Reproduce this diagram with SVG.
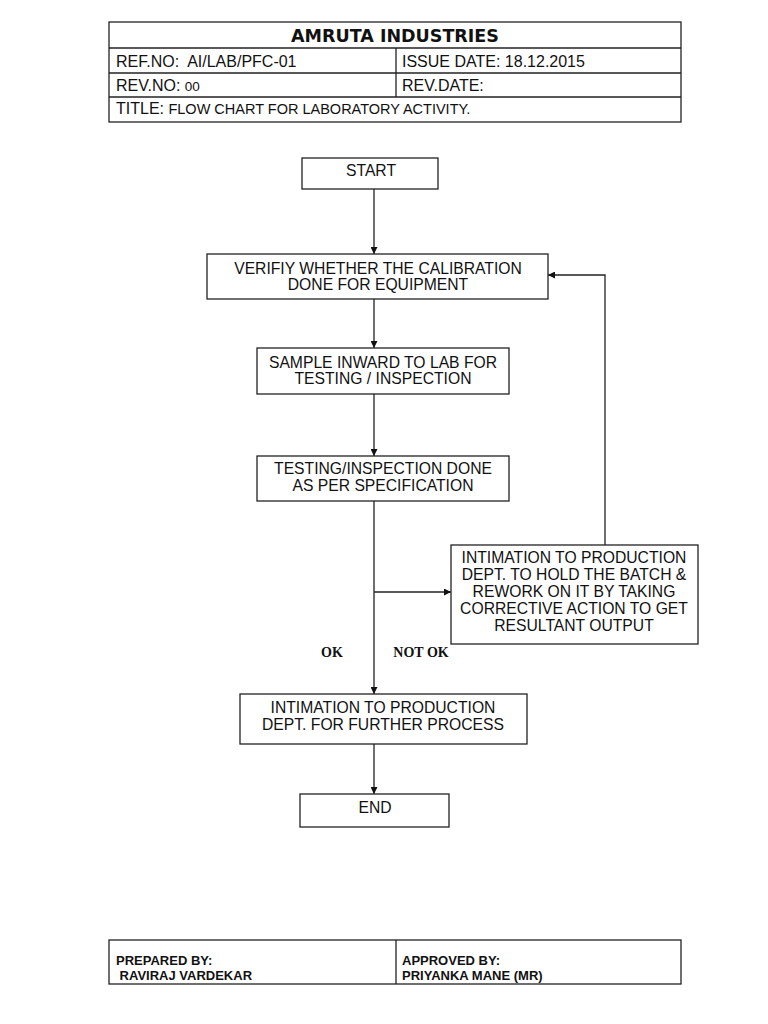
<svg xmlns="http://www.w3.org/2000/svg" width="768" height="1024" viewBox="0 0 768 1024">
<defs>
<marker id="arr" viewBox="0 0 10 10" refX="10" refY="5" markerWidth="7" markerHeight="7" markerUnits="userSpaceOnUse" orient="auto">
<path d="M0,0 L10,5 L0,10 Z" fill="#111"/>
</marker>
</defs>
<style>
.box{fill:#fff;stroke:#222;stroke-width:1.3}
.t{font-family:"Liberation Sans",Arial,sans-serif;font-size:15.7px;fill:#111}
.h{font-size:16px}
.c{text-anchor:middle}
.s{font-size:14.5px}
.s0{font-size:13.5px}
.f{font-size:13px;font-weight:bold}
.ln{fill:none;stroke:#222;stroke-width:1.3}
.lbl{font-family:"Liberation Serif","Times New Roman",serif;font-size:14px;font-weight:bold;fill:#111}
</style>
<rect width="768" height="1024" fill="#fff"/>
<g id="header">
<rect class="box" x="109" y="22" width="572" height="100"/>
<line class="ln" x1="109" y1="48" x2="681" y2="48"/>
<line class="ln" x1="109" y1="73" x2="681" y2="73"/>
<line class="ln" x1="109" y1="97" x2="681" y2="97"/>
<line class="ln" x1="396" y1="48" x2="396" y2="97"/>
<text x="395" y="42" class="c" style="font-family:'DejaVu Sans',sans-serif;font-size:17.5px;font-weight:bold;fill:#111">AMRUTA INDUSTRIES</text>
<text x="116" y="67" class="t h" xml:space="preserve">REF.NO:  AI/LAB/PFC-01</text>
<text x="402" y="67" class="t h">ISSUE DATE: 18.12.2015</text>
<text x="116" y="91" class="t h">REV.NO: <tspan class="s0">00</tspan></text>
<text x="402" y="91" class="t h">REV.DATE:</text>
<text x="116" y="114" class="t h">TITLE: <tspan class="s">FLOW CHART FOR LABORATORY ACTIVITY.</tspan></text>
</g>
<g id="connectors">
<line class="ln" x1="374" y1="189" x2="374" y2="254" marker-end="url(#arr)"/>
<line class="ln" x1="374" y1="299" x2="374" y2="348" marker-end="url(#arr)"/>
<line class="ln" x1="374" y1="394" x2="374" y2="456" marker-end="url(#arr)"/>
<line class="ln" x1="374" y1="501" x2="374" y2="694" marker-end="url(#arr)"/>
<polyline class="ln" points="374,592 451,592" marker-end="url(#arr)"/>
<polyline class="ln" points="605,545 605,275 548,275" marker-end="url(#arr)"/>
<line class="ln" x1="374" y1="744" x2="374" y2="794" marker-end="url(#arr)"/>
<text x="332" y="657" class="lbl c">OK</text>
<text x="421" y="657" class="lbl c">NOT OK</text>
</g>
<g id="start">
<rect class="box" x="302" y="158" width="136" height="31"/>
<text x="371" y="176" class="t c">START</text>
</g>
<g id="verify">
<rect class="box" x="207" y="254" width="341" height="45"/>
<text x="378" y="274" class="t c">VERIFIY WHETHER THE CALIBRATION</text>
<text x="378" y="290" class="t c">DONE FOR EQUIPMENT</text>
</g>
<g id="sample">
<rect class="box" x="257" y="348" width="252" height="46"/>
<text x="383" y="368" class="t c">SAMPLE INWARD TO LAB FOR</text>
<text x="383" y="384" class="t c">TESTING / INSPECTION</text>
</g>
<g id="testing">
<rect class="box" x="257" y="456" width="252" height="45"/>
<text x="383" y="474" class="t c">TESTING/INSPECTION DONE</text>
<text x="383" y="491" class="t c">AS PER SPECIFICATION</text>
</g>
<g id="rework">
<rect class="box" x="451" y="545" width="247" height="99"/>
<text x="574" y="563" class="t c">INTIMATION TO PRODUCTION</text>
<text x="574" y="580" class="t c">DEPT. TO HOLD THE BATCH &amp;</text>
<text x="574" y="597" class="t c">REWORK ON IT BY TAKING</text>
<text x="574" y="614" class="t c">CORRECTIVE ACTION TO GET</text>
<text x="574" y="631" class="t c">RESULTANT OUTPUT</text>
</g>
<g id="further">
<rect class="box" x="240" y="694" width="287" height="50"/>
<text x="383" y="713" class="t c">INTIMATION TO PRODUCTION</text>
<text x="383" y="730" class="t c">DEPT. FOR FURTHER PROCESS</text>
</g>
<g id="end">
<rect class="box" x="300" y="794" width="149" height="33"/>
<text x="375" y="813" class="t c">END</text>
</g>
<g id="footer">
<rect class="box" x="109" y="940" width="572" height="44"/>
<line class="ln" x1="396" y1="940" x2="396" y2="984"/>
<text x="116" y="965" class="t f">PREPARED BY:</text>
<text x="116" y="980" class="t f" xml:space="preserve"> RAVIRAJ VARDEKAR</text>
<text x="402" y="965" class="t f">APPROVED BY:</text>
<text x="402" y="980" class="t f">PRIYANKA MANE (MR)</text>
</g>
</svg>
